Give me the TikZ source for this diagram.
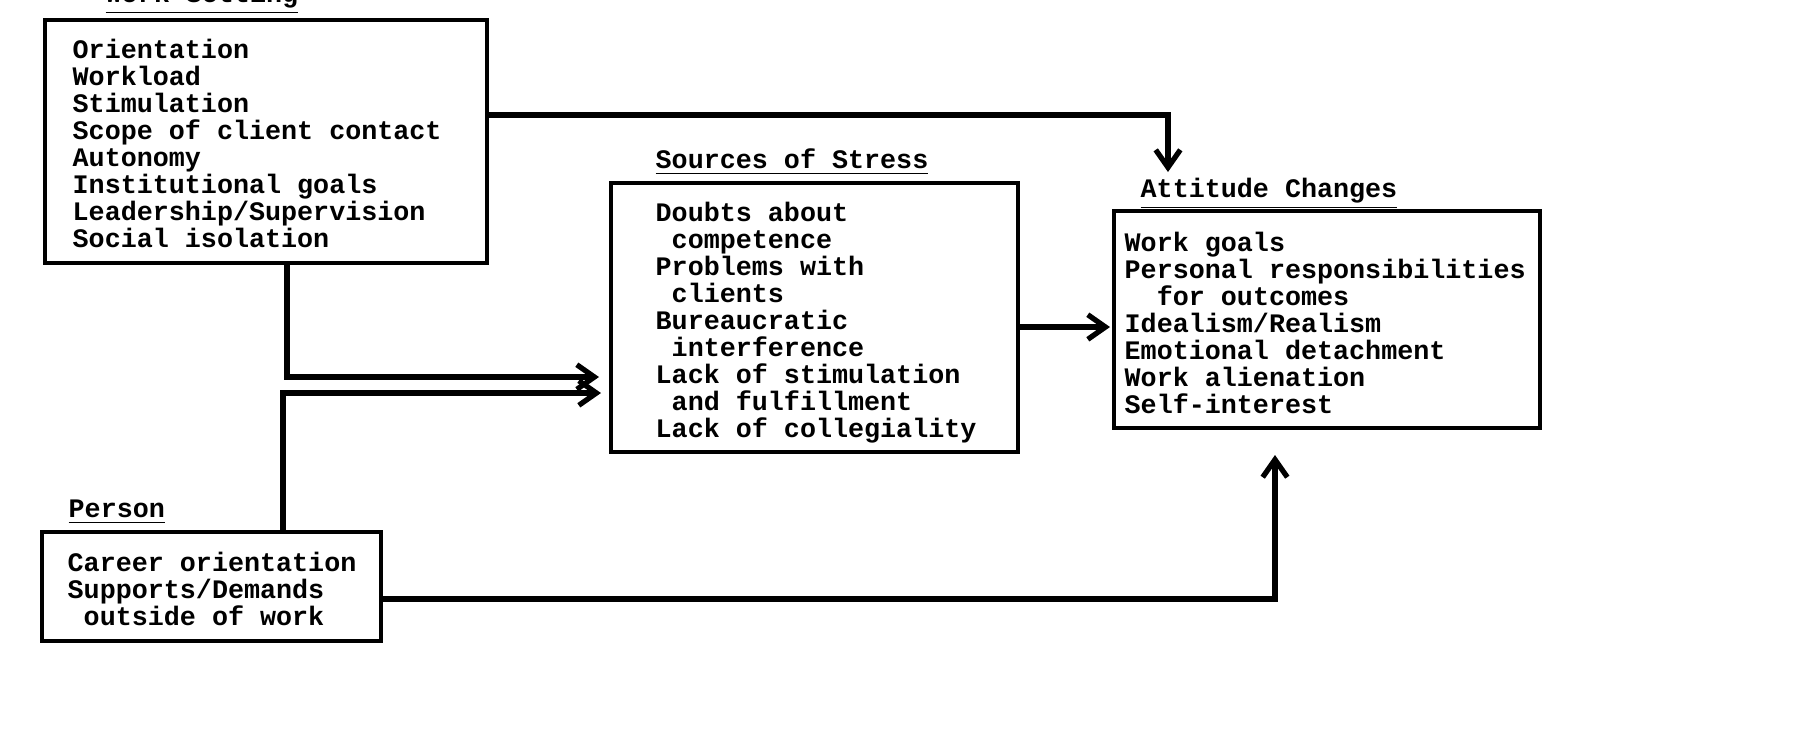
\documentclass[tikz,border=0pt]{standalone}
\usepackage{fontspec}
\setmonofont{Liberation Mono}
\usetikzlibrary{arrows.meta}
\begin{document}
\begin{tikzpicture}[x=0.01cm,y=-0.01cm,
  txt/.style={anchor=north west,align=left,inner sep=0pt,font=\ttfamily\bfseries\fontsize{7.6}{7.7}\selectfont},
  box/.style={draw,line width=1.1pt},
  conn/.style={line width=1.5pt,-{Straight Barb[length=5pt,width=7pt]}},
  ln/.style={line width=1.5pt}]
\useasboundingbox (0,0) rectangle (1817,753);
\draw[box] (45,20) rectangle (487,263);
\draw[box] (611,183) rectangle (1018,452);
\draw[box] (1114,211) rectangle (1540,428);
\draw[box] (42,532) rectangle (381,641);
\node[txt] (hw) at (105,-18) {\underline{Work Setting}};
\node[txt] (hs) at (655,148) {\underline{Sources of Stress}};
\node[txt] (ha) at (1140,177) {\underline{Attitude Changes}};
\node[txt] (hp) at (68,499) {\underline{Person}};
\node[txt] (tw) at (72,38) {Orientation\\Workload\\Stimulation\\Scope of client contact\\Autonomy\\Institutional goals\\Leadership/Supervision\\Social isolation};
\node[txt] (ts) at (655,201) {Doubts about\\\ competence\\Problems with\\\ clients\\Bureaucratic\\\ interference\\Lack of stimulation\\\ and fulfillment\\Lack of collegiality};
\node[txt] (ta) at (1124,231) {Work goals\\Personal responsibilities\\\ \ for outcomes\\Idealism/Realism\\Emotional detachment\\Work alienation\\Self-interest};
\node[txt] (tp) at (67,551) {Career orientation\\Supports/Demands\\\ outside of work};
\coordinate (a1) at (487,115); \coordinate (a1e) at (1168,172);
\draw[conn] (a1) -| (a1e);
\coordinate (b1) at (287,263); \coordinate (b1e) at (599,377);
\draw[conn] (b1) |- (b1e);
\coordinate (c1) at (283,532); \coordinate (c1e) at (601,393);
\draw[conn] (c1) |- (c1e);
\coordinate (d1) at (1018,327); \coordinate (d1e) at (1110,327);
\draw[conn] (d1) -- (d1e);
\coordinate (e1) at (381,599); \coordinate (e1e) at (1275,455);
\draw[conn] (e1) -| (e1e);
\end{tikzpicture}
\end{document}
